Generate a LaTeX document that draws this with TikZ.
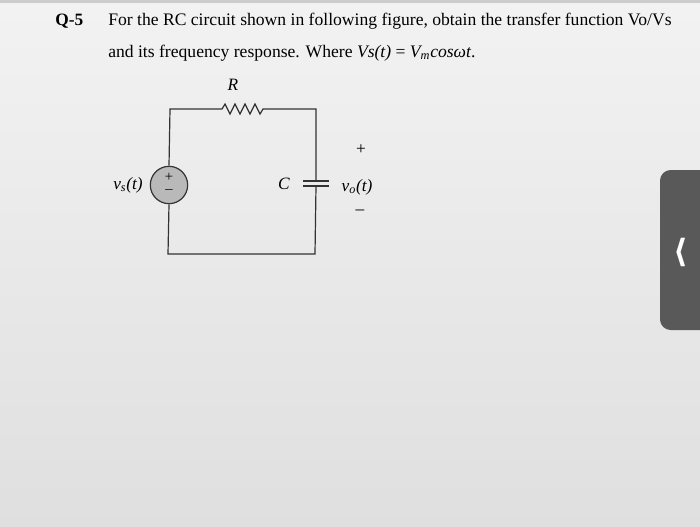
\documentclass[tikz,border=0pt]{standalone}
\usepackage{fontspec}
\setmainfont{Liberation Serif}
\newfontfamily\symf{DejaVu Sans}
\usetikzlibrary{shadings,calc}
\begin{document}
\begin{tikzpicture}[x=0.75pt,y=-0.75pt,
  wire/.style={line width=0.9pt,color=black!80},
  lbl/.style={font=\fontsize{13}{15}\selectfont\itshape,inner sep=0pt}]
\useasboundingbox (0,0) rectangle (700,526);
\shade[top color=gray!10,bottom color=gray!25] (0,0) rectangle (700,526);
\fill[gray!40] (0,0) rectangle (700,3);
% text
\node[anchor=base west,inner sep=0pt,font=\fontsize{13}{15}\selectfont\bfseries] (q) at (55,25) {Q-5};
\node[anchor=base west,inner sep=0pt,font=\fontsize{13.2}{15}\selectfont] (l1) at (108,25) {For the RC circuit shown in following figure, obtain the transfer function Vo/Vs};
\node[anchor=base west,inner sep=0pt,font=\fontsize{13.2}{15}\selectfont] (l2) at (108,57) {and its frequency response. Where \textit{Vs(t)} = \textit{V\textsubscript{m}cosωt}.};
% circuit
\coordinate (tl) at (170,109);
\coordinate (tr) at (316,109);
\coordinate (br) at (315,254);
\coordinate (bl) at (168,254);
\node[circle,draw=black!80,line width=0.9pt,fill=gray!55,minimum size=28pt,inner sep=0pt] (src) at (169,185) {};
\node[font=\fontsize{11}{11}\selectfont,inner sep=0pt] (sp) at (169,177) {+};
\node[font=\fontsize{11}{11}\selectfont,inner sep=0pt] (sm) at (169,192) {--};
\coordinate (r1) at (222,109);
\coordinate (r2) at (266,109);
\coordinate (c1) at (316,181);
\coordinate (c2) at (316,186);
\draw[wire] (src.north) -- (tl) -- (r1)
  -- ++(3,-5) -- ++(5,10) -- ++(5,-10) -- ++(5,10) -- ++(5,-10) -- ++(5,10) -- ++(5,-10) -- ++(5,10) -- ++(3,-5) -- (r2) -- (tr) -- (c1);
\draw[wire] (c2) -- (br) -- (bl) -- (src.south);
\draw[wire] ($(c1)+(-13,0)$) -- ($(c1)+(13,0)$);
\draw[wire] ($(c2)+(-13,0)$) -- ($(c2)+(13,0)$);
\node[lbl] (R) at (233,85) {R};
\node[lbl] (C) at (284,184) {C};
\node[lbl] (vs) at (128,185) {v\textsubscript{s}(t)};
\node[lbl] (vo) at (357,187) {v\textsubscript{o}(t)};
\node[font=\fontsize{13}{13}\selectfont,inner sep=0pt] (pl) at (361,150) {+};
\node[font=\fontsize{13}{13}\selectfont,inner sep=0pt] (mi) at (360,212) {--};
% tab
\fill[gray!70!black,rounded corners=8pt] (660,170) rectangle (715,330);
\node[white,font=\symf\fontsize{24}{24}\selectfont\bfseries,inner sep=0pt] (tab) at (681,252) {⟨};
\end{tikzpicture}
\end{document}
